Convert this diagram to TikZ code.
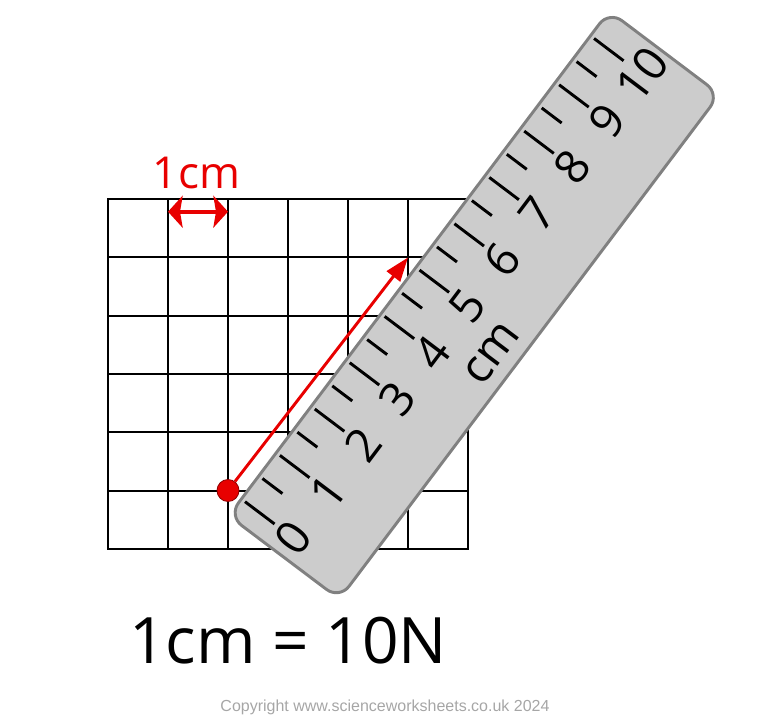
\documentclass[tikz,border=0pt]{standalone}
\usepackage{fontspec}
\setmainfont{Open Sans}
\newfontfamily\copyfont{Liberation Sans}
\usetikzlibrary{arrows.meta}
\definecolor{arrowred}{RGB}{232,0,0}
\definecolor{rulergray}{RGB}{204,204,204}
\definecolor{rulerline}{RGB}{128,128,128}
\definecolor{copygray}{RGB}{166,166,166}
\tikzset{
  gridline/.style={line width=1.5pt, line cap=rect},
  tickmark/.style={line width=2.2pt},
  rulerlabel/.style={font=\fontsize{35}{35}\selectfont, rotate=53, inner sep=0pt},
}
\begin{document}
\begin{tikzpicture}[x=0.75pt,y=-0.75pt]
    \useasboundingbox (0,0) rectangle (768,717);
    % squared paper
    \foreach \i in {0,...,6} {
        \draw[gridline] (108+60*\i,199) -- (108+60*\i,548.8);
        \draw[gridline] (108,199+58.3*\i) -- (468,199+58.3*\i);
    }
    % ruler laid along the force arrow
    \begin{scope}[shift={(245,501.7)},rotate=53]
        \draw[rulerline, fill=rulergray, line width=2.2pt, rounded corners=12pt] (-21,-4.5) rectangle (611,134);
        \foreach \n in {0,...,10} {
            \draw[tickmark] (58*\n,0) -- (58*\n,37);
            \node[rulerlabel] (num\n) at (58*\n,60) {\n};
        }
        \foreach \n in {0,...,9}
            \draw[tickmark] (58*\n+29,0) -- (58*\n+29,25);
        \node[rulerlabel] (unit) at (267,108) {cm};
    \end{scope}
    % force arrow
    \coordinate (tip) at (408,257.5);
    \node[circle, fill=arrowred, draw=red!55!black, line width=0.6pt, minimum size=16.5pt, inner sep=0pt] (dot) at (228,490.5) {};
    \draw[arrowred, line width=2.2pt, -{Triangle[length=18pt,width=12.5pt]}] (dot) -- (tip);
    % scale marker
    \coordinate (cmleft) at (168,211.7);
    \coordinate (cmright) at (228,211.7);
    \draw[arrowred, line width=3pt, {Stealth[length=11pt,width=24pt,inset=2pt]}-{Stealth[length=11pt,width=24pt,inset=2pt]}] (cmleft) -- (cmright);
    \node[text=arrowred, font=\fontsize{33}{33}\selectfont, anchor=base] (cmlabel) at (196.5,188.3) {1cm};
    \node[font=\fontsize{48}{48}\selectfont, anchor=base] (scale) at (288,663) {1cm = 10N};
    \node[font=\copyfont\fontsize{12}{12}\selectfont, text=copygray, anchor=base] (copy) at (385,711.7) {Copyright www.scienceworksheets.co.uk 2024};
\end{tikzpicture}
\end{document}
